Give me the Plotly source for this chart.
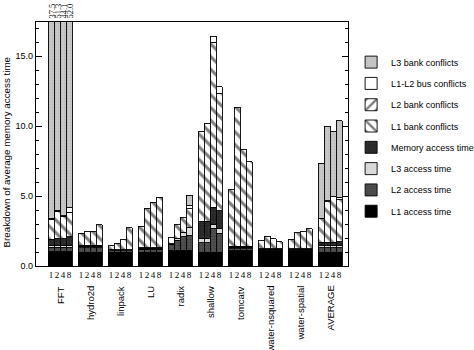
import plotly.graph_objects as go

benchmarks = ["FFT", "hydro2d", "linpack", "LU", "radix", "shallow", "tomcatv",
              "water-nsquared", "water-spatial", "AVERAGE"]
configs = ["1", "2", "4", "8"]

# stacked components, 4 bars (1,2,4,8 processors) per benchmark
l1_access = [1.05]*4 + [1.0]*4 + [1.0]*4 + [1.0]*4 + [1.1]*4 + [1.0]*4 + [1.1]*4 + [1.1]*4 + [1.1]*4 + [1.0]*4
l2_access = [0.3]*4 + [0.3]*4 + [0.1]*4 + [0.2]*4 + [0.45, 0.75, 1.0, 1.1] + [0.65, 0.65, 1.7, 1.35] + [0.15]*4 + [0.1]*4 + [0.1]*4 + [0.3]*4
l3_access = [0.15]*4 + [0.12]*4 + [0.05]*4 + [0.08]*4 + [0.05, 0.15, 0.3, 0.55] + [0.35, 0.35, 0.3, 0.3] + [0.1]*4 + [0.05]*4 + [0.05]*4 + [0.15]*4
mem_access = [0.4, 0.5, 0.45, 0.6] + [0.08]*4 + [0.0]*4 + [0.02]*4 + [0.0]*4 + [1.2, 1.2, 1.2, 1.3] + [0.05]*4 + [0.0]*4 + [0.0]*4 + [0.25, 0.25, 0.25, 0.3]
l1_bank = ([1.45, 1.9, 1.6, 1.75] + [0.83, 1.0, 1.0, 1.45] + [0.28, 0.49, 0.73, 1.6] + [1.55, 2.82, 3.25, 3.62]
           + [0.45, 1.0, 1.1, 1.35] + [6.4, 7.0, 11.8, 8.35] + [4.03, 9.93, 6.93, 6.05] + [0.58, 0.89, 0.68, 0.49]
           + [0.65, 1.13, 1.25, 1.42] + [1.7, 2.9, 3.25, 3.0])
l2_bank = [0.0]*40
bus_conf = [0.05, 0.1, 0.05, 0.3] + [0.0]*4 + [0.0]*4 + [0.0]*4 + [0.0, 0.0, 0.0, 0.25] + [0.0, 0.0, 0.4, 0.5] + [0.0]*4 + [0.0]*4 + [0.0]*4 + [0.0, 0.05, 0.0, 0.15]
l3_bank = [34.1, 47.3, 40.5, 47.85] + [0.0]*4 + [0.0]*4 + [0.0]*4 + [0.0, 0.0, 0.0, 0.7] + [0.0]*4 + [0.0]*4 + [0.0]*4 + [0.0]*4 + [3.93, 5.35, 4.69, 5.48]

Y_MAX = 17.43
offsets = [-0.3, -0.1, 0.1, 0.3]
xpos = [g + o for g in range(len(benchmarks)) for o in offsets]
xlabels = [c for _ in benchmarks for c in configs]

series = [
    ("L1 access time", l1_access, dict(color="#000000")),
    ("L2 access time", l2_access, dict(color="#505050", pattern=dict(shape="+", fgcolor="#2e2e2e", size=3, solidity=0.3))),
    ("L3 access time", l3_access, dict(color="#dedede", pattern=dict(shape=".", fgcolor="#b8b8b8", size=3, solidity=0.3))),
    ("Memory access time", mem_access, dict(color="#262626", pattern=dict(shape="+", fgcolor="#404040", size=3, solidity=0.3))),
    ("L1 bank conflicts", l1_bank, dict(color="#ffffff", pattern=dict(shape="\\", fgcolor="#000000", bgcolor="#ffffff", size=9, solidity=0.34))),
    ("L2 bank conflicts", l2_bank, dict(color="#ffffff", pattern=dict(shape="/", fgcolor="#000000", bgcolor="#ffffff", size=9, solidity=0.34))),
    ("L1-L2 bus conflicts", bus_conf, dict(color="#ffffff")),
    ("L3 bank conflicts", l3_bank, dict(color="#c8c8c8", pattern=dict(shape=".", fgcolor="#b0b0b0", size=3, solidity=0.3))),
]

fig = go.Figure()
n = len(series)
for i, (name, vals, mk) in enumerate(series):
    mk = dict(mk)
    mk["line"] = dict(color="#000000", width=0.9)
    fig.add_trace(go.Bar(
        x=xpos, y=[v if v > 0 else None for v in vals], name=name, legendgroup=name,
        legendrank=1000 + n - i, width=0.2, marker=mk,
    ))

# invisible trace to carry a mirrored right axis with ticks
fig.add_trace(go.Scatter(x=[xpos[0]], y=[0], yaxis="y2", mode="markers",
                         marker=dict(opacity=0), showlegend=False, hoverinfo="skip"))

# totals of bars that run off the top of the axis
totals = [sum(s[1][i] for s in series) for i in range(len(xpos))]
for x, t in zip(xpos, totals):
    if t > Y_MAX:
        fig.add_annotation(x=x, y=1, xref="x", yref="paper", yanchor="bottom", yshift=1,
                           text=f"{t:.1f}", textangle=-90, showarrow=False,
                           font=dict(family="Liberation Serif", size=8.5, color="#000"))

for g, b in enumerate(benchmarks):
    fig.add_annotation(x=g, y=0, xref="x", yref="paper", yanchor="top", yshift=-18,
                       text=b, textangle=-90, showarrow=False,
                       font=dict(family="Liberation Sans", size=9.5, color="#000"))

fig.add_annotation(x=0, y=0.465, xref="paper", yref="paper", xanchor="center", yanchor="middle",
                   xshift=-29, text="Breakdown of average memory access time", textangle=-90,
                   showarrow=False, font=dict(family="Liberation Sans", size=9.8, color="#000"))

tick_common = dict(range=[0, Y_MAX], tickvals=[0, 5, 10, 15], ticks="inside",
                   ticklen=6, tickwidth=1, tickcolor="#000",
                   minor=dict(dtick=1, ticks="inside", ticklen=3, tickcolor="#000", showgrid=False),
                   showline=True, linecolor="#000", linewidth=1.2, showgrid=False, zeroline=False)

fig.update_layout(
    width=474, height=350,
    margin=dict(l=36, r=126, t=22, b=84, autoexpand=False),
    barmode="stack",
    plot_bgcolor="#ffffff", paper_bgcolor="#ffffff",
    font=dict(family="Liberation Sans", size=9, color="#000"),
    legend=dict(x=1.01, y=0.895, xanchor="left", yanchor="top", traceorder="grouped",
                tracegroupgap=2.3,
                font=dict(family="Liberation Sans", size=9, color="#000"),
                bgcolor="rgba(0,0,0,0)"),
    xaxis=dict(range=[-0.8, 9.6], tickvals=xpos, ticktext=xlabels, ticks="",
               showline=True, linecolor="#000", linewidth=1.2, mirror=True, showgrid=False,
               zeroline=False, tickangle=0,
               tickfont=dict(family="Liberation Serif", size=9)),
    yaxis=dict(**tick_common, tickformat=".1f",
               tickfont=dict(family="Liberation Sans", size=9)),
    yaxis2=dict(**tick_common, overlaying="y", side="right", showticklabels=False),
)

fig.write_html("out.html")
